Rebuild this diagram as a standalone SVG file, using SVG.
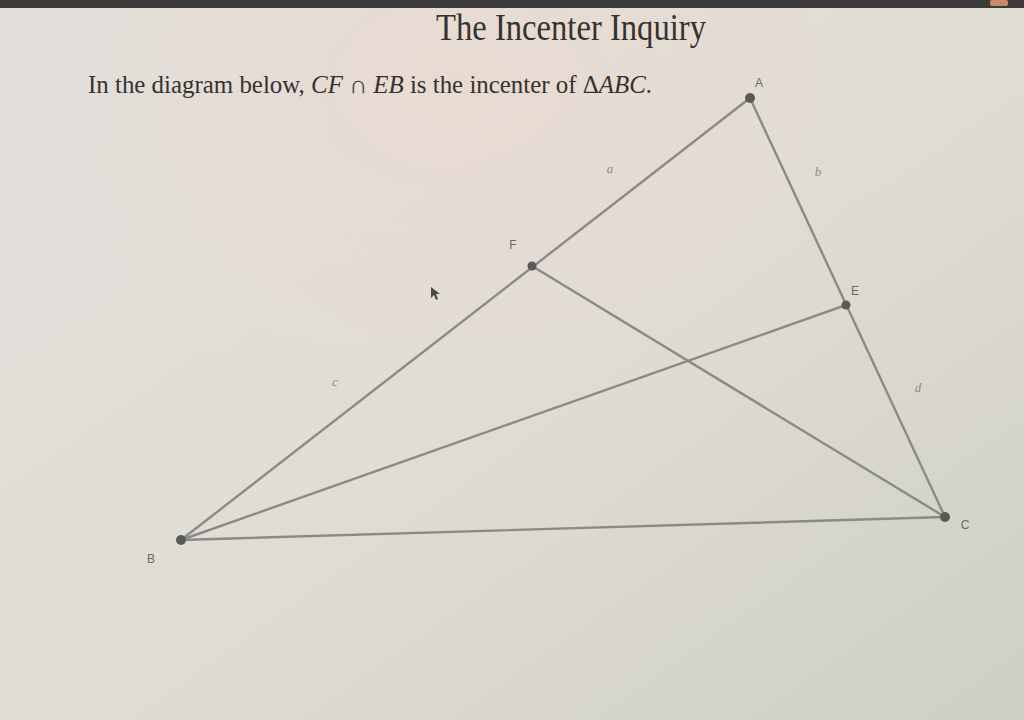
<svg xmlns="http://www.w3.org/2000/svg" width="1024" height="720" viewBox="0 0 1024 720">
  <defs>
    <linearGradient id="bg" x1="0" y1="0" x2="1" y2="1">
      <stop offset="0" stop-color="#e2dfdc"/>
      <stop offset="0.5" stop-color="#e0ddd5"/>
      <stop offset="1" stop-color="#cfcfc6"/>
    </linearGradient>
    <radialGradient id="warm" cx="0.45" cy="0.12" r="0.45">
      <stop offset="0" stop-color="#ecd9cf" stop-opacity="0.7"/>
      <stop offset="1" stop-color="#ecd9cf" stop-opacity="0"/>
    </radialGradient>
    <style>
      .seg { stroke: #8a8a86; stroke-width: 2.4; fill: none; stroke-linecap: round; }
      .pt { fill: #5a5a58; }
      .lbl { font-family: "Liberation Sans", Arial, sans-serif; font-size: 12px; fill: #6a6a66; }
      .side { font-family: "Liberation Serif", "Times New Roman", serif; font-style: italic; font-size: 13px; fill: #8a8a86; }
      .title { font-family: "Liberation Serif", "Times New Roman", serif; fill: #333331; }
    </style>
  </defs>
  <rect x="0" y="0" width="1024" height="720" fill="url(#bg)"/>
  <rect x="0" y="0" width="1024" height="720" fill="url(#warm)"/>
  <rect x="0" y="0" width="1024" height="8" fill="#3c3b39"/>
  <rect x="990" y="0" width="18" height="6" rx="2" fill="#c98a6a"/>

  <text class="title" x="571" y="40" font-size="37" text-anchor="middle" textLength="270" lengthAdjust="spacingAndGlyphs">The Incenter Inquiry</text>
  <text class="title" x="88" y="93" font-size="25" textLength="564" lengthAdjust="spacingAndGlyphs">In the diagram below, <tspan font-style="italic">CF</tspan> ∩ <tspan font-style="italic">EB</tspan> is the incenter of Δ<tspan font-style="italic">ABC</tspan>.</text>

  <g id="connectors">
    <line class="seg" x1="750" y1="98" x2="181" y2="540"/>
    <line class="seg" x1="750" y1="98" x2="945" y2="517"/>
    <line class="seg" x1="181" y1="540" x2="945" y2="517"/>
    <line class="seg" x1="532" y1="266" x2="945" y2="517"/>
    <line class="seg" x1="846" y1="305" x2="181" y2="540"/>
  </g>

  <g id="node-A"><circle class="pt" cx="750" cy="98" r="5"/><text class="lbl" x="759" y="87" text-anchor="middle">A</text></g>
  <g id="node-B"><circle class="pt" cx="181" cy="540" r="5"/><text class="lbl" x="151" y="563" text-anchor="middle">B</text></g>
  <g id="node-C"><circle class="pt" cx="945" cy="517" r="5"/><text class="lbl" x="965" y="529" text-anchor="middle">C</text></g>
  <g id="node-F"><circle class="pt" cx="532" cy="266" r="4.5"/><text class="lbl" x="513" y="249" text-anchor="middle">F</text></g>
  <g id="node-E"><circle class="pt" cx="846" cy="305" r="4.5"/><text class="lbl" x="855" y="295" text-anchor="middle">E</text></g>

  <g id="side-labels">
    <text class="side" x="610" y="173" text-anchor="middle">a</text>
    <text class="side" x="818" y="176" text-anchor="middle">b</text>
    <text class="side" x="335" y="386" text-anchor="middle">c</text>
    <text class="side" x="918" y="392" text-anchor="middle">d</text>
  </g>

  <path d="M431,287 L431,298 L434,295 L436,300 L438,299 L436,294 L440,294 Z" fill="#4a4a48"/>
</svg>
